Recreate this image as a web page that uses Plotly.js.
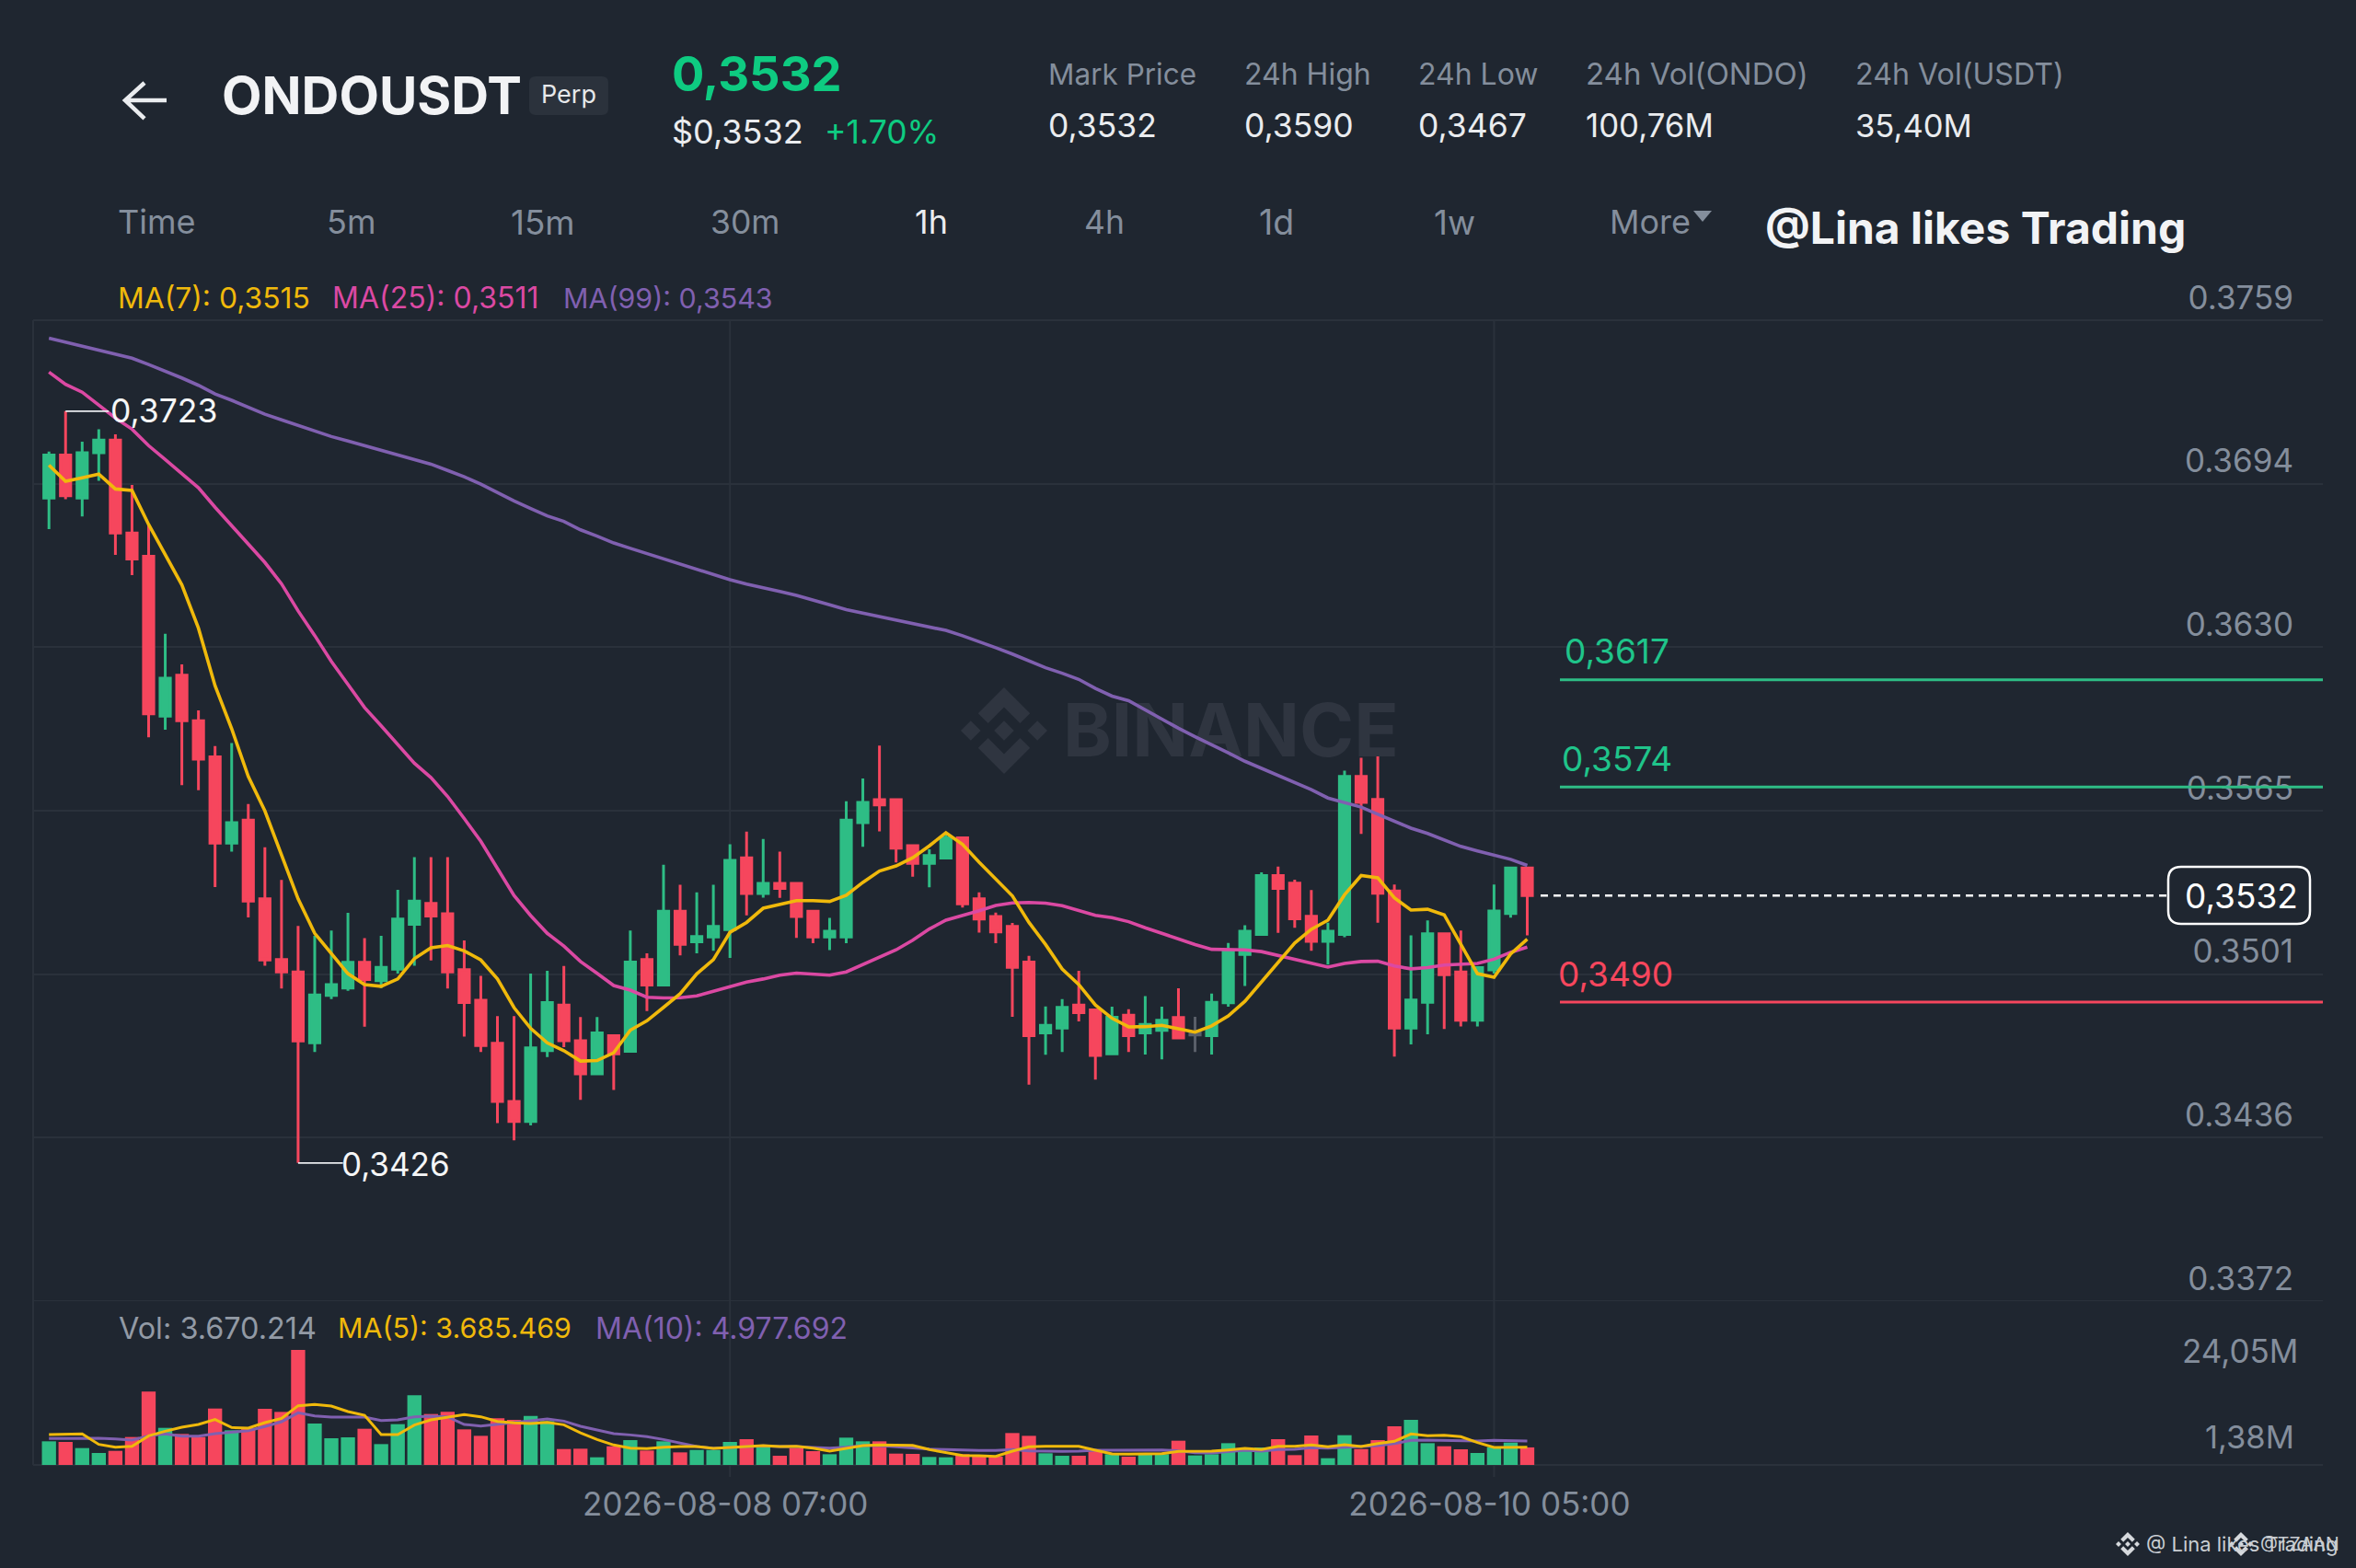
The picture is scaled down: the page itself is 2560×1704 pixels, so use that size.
<!DOCTYPE html>
<html>
<head>
<meta charset="utf-8">
<script src="https://cdn.plot.ly/plotly-3.0.1.min.js"></script>
<style>html,body{margin:0;padding:0;background:#1f2630}#c{width:2560px;height:1704px}</style>
</head>
<body>
<div id="c"></div>
<script>
const open = [
.36888,.37058,.36888,.37067,.37117,.36750,.36659,.36028,.36189,.36010,
.35867,.35527,.35618,.35307,.35068,.35019,.34739,.34926,.34955,.35057,
.34984,.35030,.35207,.35289,.35248,.35028,.34907,.34737,.34508,.34429,
.34708,.34888,.34747,.34617,.34767,.34706,.35068,.34967,.35258,.35138,
.35157,.35186,.35469,.35328,.35368,.35368,.35258,.35157,.35157,.35608,
.35698,.35698,.35517,.35447,.35468,.35548,.35307,.35237,.35198,.35058,
.34778,.34797,.34888,.34869,.34696,.34848,.34778,.34788,.34839,.34778,
.34767,.34897,.35088,.35167,.35399,.35369,.35238,.35139,.35167,.35790,
.35699,.35338,.34797,.34899,.35169,.35019,.34828,.35027,.35249,.35429];
const high = [
.37072,.37231,.37111,.37160,.37140,.36940,.36784,.36353,.36232,.36051,
.35910,.35922,.35681,.35511,.35382,.35200,.35161,.35182,.35252,.35152,
.35161,.35343,.35472,.35472,.35472,.35143,.35003,.34844,.34844,.35012,
.35023,.35042,.34841,.34841,.34767,.35182,.35092,.35442,.35363,.35333,
.35363,.35522,.35572,.35543,.35493,.35372,.35261,.35232,.35692,.35782,
.35912,.35698,.35522,.35502,.35561,.35552,.35333,.35253,.35212,.35082,
.34883,.34912,.35023,.34872,.34882,.34872,.34923,.34882,.34954,.34842,
.34933,.35133,.35203,.35412,.35434,.35383,.35342,.35213,.35813,.35864,
.35902,.35364,.35163,.35222,.35173,.35182,.35039,.35364,.35433,.35429];
const low = [
.36766,.36884,.36816,.36956,.36664,.36584,.35944,.35974,.35756,.35736,
.35354,.35493,.35234,.35043,.34953,.34265,.34703,.34912,.34944,.34803,
.34955,.35012,.35043,.35064,.34953,.34764,.34703,.34422,.34354,.34413,
.34683,.34722,.34514,.34617,.34553,.34704,.34864,.34967,.35084,.35092,
.35102,.35074,.35242,.35312,.35311,.35153,.35132,.35105,.35132,.35512,
.35573,.35451,.35394,.35353,.35463,.35273,.35174,.35132,.34842,.34574,
.34692,.34703,.34824,.34594,.34693,.34703,.34693,.34674,.34754,.34703,
.34693,.34882,.34963,.35163,.35173,.35193,.35102,.35048,.35156,.35563,
.35213,.34685,.34733,.34773,.34794,.34804,.34804,.35012,.35233,.35163];
const close = [
.37058,.36897,.37067,.37117,.36750,.36648,.36037,.36178,.36010,.35858,
.35527,.35608,.35298,.35066,.35019,.34746,.34928,.34969,.35057,.34989,
.35037,.35227,.35298,.35239,.35019,.34898,.34728,.34508,.34429,.34719,
.34898,.34747,.34617,.34778,.34696,.35058,.34967,.35258,.35128,.35158,
.35198,.35459,.35328,.35368,.35348,.35237,.35157,.35179,.35618,.35688,
.35678,.35507,.35447,.35478,.35548,.35287,.35227,.35177,.35037,.34767,
.34808,.34879,.34858,.34689,.34840,.34767,.34812,.34828,.34758,.34770,
.34899,.35101,.35179,.35399,.35348,.35228,.35139,.35179,.35790,.35688,
.35329,.34797,.34908,.35169,.35008,.34828,.35036,.35259,.35429,.35320];
const ma7 = [
.37018,.36954,.36968,.36983,.36924,.36918,.36784,.36668,.36546,.36375,
.36148,.35978,.35790,.35654,.35484,.35307,.35171,.35091,.35012,.34969,
.34962,.34991,.35071,.35114,.35123,.35102,.35066,.34991,.34878,.34796,
.34739,.34708,.34667,.34669,.34700,.34789,.34826,.34879,.34933,.35011,
.35067,.35175,.35214,.35270,.35284,.35300,.35300,.35297,.35321,.35372,
.35417,.35437,.35469,.35516,.35568,.35522,.35452,.35386,.35319,.35214,
.35127,.35030,.34969,.34888,.34836,.34802,.34803,.34808,.34794,.34781,
.34806,.34845,.34903,.34981,.35060,.35133,.35187,.35223,.35323,.35399,
.35390,.35311,.35263,.35266,.35244,.35127,.35012,.34998,.35090,.35148];
const ma25 = [
.37385,.37337,.37306,.37256,.37204,.37160,.37095,.37040,.36986,.36929,
.36852,.36779,.36709,.36634,.36550,.36443,.36346,.36244,.36153,.36062,
.35990,.35915,.35842,.35785,.35711,.35624,.35534,.35427,.35320,.35241,
.35171,.35121,.35060,.35013,.34965,.34947,.34919,.34916,.34917,.34924,
.34942,.34962,.34979,.34991,.35006,.35014,.35011,.35006,.35019,.35048,
.35077,.35106,.35144,.35188,.35223,.35241,.35260,.35281,.35291,.35293,
.35290,.35280,.35260,.35242,.35233,.35217,.35193,.35171,.35148,.35127,
.35108,.35106,.35106,.35099,.35084,.35069,.35052,.35038,.35052,.35060,
.35061,.35042,.35031,.35036,.35046,.35048,.35052,.35069,.35096,.35117];
const ma99 = [
.37519,.37503,.37487,.37474,.37458,.37440,.37415,.37390,.37362,.37333,
.37299,.37274,.37247,.37219,.37197,.37174,.37151,.37131,.37113,.37095,
.37076,.37058,.37040,.37022,.36997,.36972,.36943,.36909,.36877,.36847,
.36818,.36796,.36763,.36738,.36711,.36690,.36669,.36651,.36629,.36606,
.36587,.36566,.36549,.36536,.36520,.36504,.36487,.36467,.36448,.36434,
.36423,.36406,.36392,.36381,.36366,.36345,.36323,.36298,.36273,.36245,
.36219,.36197,.36173,.36137,.36107,.36089,.36052,.36016,.35980,.35947,
.35916,.35883,.35850,.35822,.35795,.35764,.35738,.35705,.35686,.35669,
.35641,.35613,.35586,.35565,.35540,.35514,.35496,.35480,.35463,.35439];
const volume = [
4.94,4.81,3.53,2.50,2.95,5.84,15.33,7.76,6.48,5.84,
11.80,7.25,7.70,11.74,11.09,24.05,8.66,5.58,5.77,7.57,
4.36,8.53,14.56,10.65,11.09,7.44,6.09,9.75,9.43,10.26,
9.17,3.33,3.40,1.60,3.91,5.19,3.01,4.94,2.63,3.14,
3.14,4.81,5.39,3.85,1.92,3.53,2.89,2.24,5.71,4.94,
4.94,2.37,2.31,1.67,1.60,2.24,1.92,1.73,6.67,6.09,
2.44,1.92,1.92,2.89,2.24,1.73,2.44,2.24,5.07,1.99,
2.24,4.55,2.89,3.66,5.39,2.05,6.16,1.41,6.22,3.33,
5.19,8.08,9.43,4.55,3.91,3.27,2.50,3.72,4.68,3.67];
const volMa5 = [
6.35,6.35,6.48,4.30,3.72,3.91,6.09,7.05,7.89,8.47,
9.49,7.82,7.70,8.85,9.75,12.38,12.63,12.31,11.16,10.39,
6.35,6.35,8.34,9.43,9.94,10.52,10.07,9.11,8.79,8.66,
8.91,8.40,6.73,5.32,4.17,3.53,3.40,3.72,3.85,3.85,
3.46,3.72,3.85,4.04,3.85,3.91,3.53,2.89,3.53,4.04,
4.17,4.10,4.10,3.21,2.57,1.99,1.92,1.80,2.89,3.78,
3.91,3.91,3.91,3.08,2.31,2.24,2.37,2.37,2.82,2.82,
2.89,3.14,3.46,3.21,3.91,3.91,4.17,3.78,4.23,3.85,
4.49,4.94,6.48,6.09,6.22,5.90,4.68,3.66,3.66,3.69];
const volMa10 = [
5.52,5.58,5.64,5.58,5.45,5.19,6.09,6.48,6.03,6.03,
6.54,6.93,7.18,8.02,9.04,10.90,10.26,10.00,9.94,10.00,
9.30,9.43,10.07,10.20,10.07,8.47,8.14,8.47,8.91,9.23,
9.62,9.17,8.08,7.25,6.54,6.28,5.90,5.32,4.55,3.85,
3.46,3.66,3.85,3.98,3.85,3.85,3.66,3.53,3.72,4.04,
4.04,3.78,3.53,3.33,3.21,3.08,3.01,3.01,3.21,2.95,
2.82,2.82,2.89,3.08,3.08,3.14,3.14,3.14,2.95,2.57,
2.50,2.76,3.08,2.89,3.21,3.27,3.59,3.53,3.66,3.78,
4.04,4.49,5.13,5.19,5.13,5.13,5.00,5.13,5.00,4.98];

const dojiIndex = 69;
const volumeUp = i => close[i] >= open[i] || i === dojiIndex;
const priceTickVals = [0.3759,0.36945,0.3630,0.35655,0.3501,0.34365,0.3372];
const priceTickText = ['0.3759','0.3694','0.3630','0.3565','0.3501','0.3436','0.3372'];
const levels = [0.36171,0.35748,0.34900];
const lastPrice = 0.35320;
const highMark = 0.37231, lowMark = 0.34265;

const BG='#1f2630', GRID='#2a313b', UP='#2ebd85', DOWN='#f6465d', GREY='#848e9c', YEL='#f0b90b', PINK='#db49a3', PUR='#8060b0', WHITE='#eaecef';
const W=2560, H=1704, FONT='Inter, "Noto Sans", sans-serif';
const start = Date.UTC(2026,7,6,14,0,0);
const iso = ms => new Date(ms).toISOString().replace('T',' ').replace('Z','');
const at = i => iso(start + i*3600000);
const times = open.map((_,i)=>at(i));
const idx = times.map((_,i)=>i);
const pick = (a,f)=>a.filter((_,i)=>f(i));
const notDoji = i=>i!==dojiIndex, isDoji = i=>i===dojiIndex;

const candle = (f,extra)=>Object.assign({type:'candlestick',x:pick(times,f),open:pick(open,f),high:pick(high,f),low:pick(low,f),close:pick(close,f),
  whiskerwidth:0,hoverinfo:'skip',showlegend:false,xaxis:'x',yaxis:'y'},extra);
const ln=(y,c,w,ax)=>({type:'scatter',mode:'lines',x:times,y:y,line:{color:c,width:w},hoverinfo:'skip',showlegend:false,xaxis:'x',yaxis:ax});

const traces=[
 {type:'scatter',mode:'text',x:[at(71.15)],y:[0.35942],text:['BINANCE'],textfont:{family:FONT,size:80,color:'#2f3540',weight:700},textposition:'middle center',hoverinfo:'skip',showlegend:false,xaxis:'x',yaxis:'y'},
 candle(notDoji,{increasing:{line:{color:UP,width:3},fillcolor:UP},decreasing:{line:{color:DOWN,width:3},fillcolor:DOWN}}),
 candle(isDoji,{increasing:{line:{color:'#5a5f69',width:3},fillcolor:'#5a5f69'},decreasing:{line:{color:'#5a5f69',width:3},fillcolor:'#5a5f69'}}),
 ln(ma99,PUR,3.6,'y'), ln(ma25,PINK,3.6,'y'), ln(ma7,YEL,3.6,'y'),
 {type:'bar',x:times,y:volume,marker:{color:idx.map(i=>volumeUp(i)?UP:DOWN),line:{width:0}},hoverinfo:'skip',showlegend:false,xaxis:'x',yaxis:'y2'},
 ln(volMa10,PUR,3,'y2'), ln(volMa5,YEL,3,'y2')
];

const T=(x,y,text,color,size,o)=>Object.assign({xref:'paper',yref:'paper',x:x/W,y:1-y/H,text:text,showarrow:false,xanchor:'left',yanchor:'middle',borderpad:0,borderwidth:0,
  font:{family:FONT,size:size,color:color}},o||{});
const pt=(x,y)=>(x/W).toFixed(5)+','+(1-y/H).toFixed(5);
const poly=(pts)=>'M'+pts.map(p=>pt(p[0],p[1])).join('L')+'Z';
const Sp=(path,fill,extra)=>Object.assign({type:'path',xref:'paper',yref:'paper',path:path,fillcolor:fill,line:{width:0}},extra||{});
function logo(cx,cy,r){
  const m=a=>a.map(p=>[cx+p[0]*r,cy+p[1]*r]);
  const d=(x,s)=>poly(m([[x,-s],[x+s,0],[x,s],[x-s,0]]));
  return [d(0,.23),d(-.77,.23),d(.77,.23),
    poly(m([[0,-1],[.6,-.4],[.37,-.17],[0,-.54],[-.37,-.17],[-.6,-.4]])),
    poly(m([[0,1],[.6,.4],[.37,.17],[0,.54],[-.37,.17],[-.6,.4]]))].join(' ');
}
function rrect(x0,y0,x1,y1,r){
  return 'M'+pt(x0+r,y0)+'L'+pt(x1-r,y0)+'Q'+pt(x1,y0)+' '+pt(x1,y0+r)+'L'+pt(x1,y1-r)+'Q'+pt(x1,y1)+' '+pt(x1-r,y1)+
    'L'+pt(x0+r,y1)+'Q'+pt(x0,y1)+' '+pt(x0,y1-r)+'L'+pt(x0,y0+r)+'Q'+pt(x0,y0)+' '+pt(x0+r,y0)+'Z';
}
const hline=(px0,px1,y,c,w,dash)=>({type:'line',xref:'paper',yref:'y',x0:px0/W,x1:px1/W,y0:y,y1:y,line:{color:c,width:w,dash:dash||'solid'}});
const vgrid=(x)=>({type:'line',xref:'x',yref:'paper',x0:x,x1:x,y0:1-348/H,y1:1-1605/H,line:{color:GRID,width:2},layer:'below'});

const shapes=[
 Sp(logo(1091,794,47),'#2f3540',{layer:'below'}),
 {type:'line',xref:'paper',yref:'paper',x0:36/W,x1:36/W,y0:1-348/H,y1:1-1592/H,line:{color:GRID,width:2},layer:'below'},
 vgrid(times[41]), vgrid(times[87]),
 hline(36,2524,priceTickVals[6],GRID,2),
 // price levels
 hline(1695,2524,levels[0],UP,3), hline(1695,2524,levels[1],UP,3), hline(1695,2524,levels[2],DOWN,3),
 hline(1674,2356,lastPrice,'#ffffff',2.5,'8px,6px'),
 Sp(rrect(2356,942,2510,1004,14),BG,{line:{color:'#ffffff',width:2.5}}),
 // high/low leaders
 {type:'line',xref:'x',yref:'y',x0:times[1],x1:at(3.6),y0:highMark,y1:highMark,line:{color:WHITE,width:1.8}},
 {type:'line',xref:'x',yref:'y',x0:times[15],x1:at(17.7),y0:lowMark,y1:lowMark,line:{color:WHITE,width:1.8}},
 // header arrow
 {type:'path',xref:'paper',yref:'paper',path:'M'+pt(181,109)+'L'+pt(136,109)+'M'+pt(157,90)+'L'+pt(136,109)+'L'+pt(157,129),line:{color:WHITE,width:4.5}},
 // perp badge
 Sp(rrect(575,83,661,125,7),'#2b323c'),
 // more triangle
 Sp(poly([[1840,229],[1860,229],[1850,241]]),GREY),
 // footer logos
 Sp(logo(2312,1678,13),'#d6d9dd'),
 Sp(logo(2435,1678,13),'#d6d9dd')
];

const annotations=[
 T(241,103,'<b>ONDOUSDT</b>','#f2f3f5',56.5),
 T(618,102,'Perp','#e6e8ea',27,{xanchor:'center'}),
 T(730,80,'<b>0,3532</b>','#0ecb81',52.5),
 T(730,143,'$0,3532',WHITE,36),
 T(896,143,'+1.70%','#0ecb81',35.5),
 T(1139,80,'Mark Price',GREY,31.5), T(1352,80,'24h High',GREY,32), T(1541,80,'24h Low',GREY,32),
 T(1723,80,'24h Vol(ONDO)',GREY,33), T(2016,80,'24h Vol(USDT)',GREY,32.2),
 T(1139,136,'0,3532',WHITE,35.5), T(1352,136,'0,3590',WHITE,35.5), T(1541,136,'0,3467',WHITE,35.5),
 T(1723,136,'100,76M',WHITE,34.8), T(2016,136,'35,40M',WHITE,34.6),
 T(128,241,'Time',GREY,36), T(355,241,'5m',GREY,36), T(555,241,'15m',GREY,36.8), T(772,241,'30m',GREY,35.5),
 T(994,241,'1h',WHITE,36), T(1178,241,'4h',GREY,35.5), T(1368,241,'1d',GREY,37.5), T(1558,241,'1w',GREY,36.8), T(1749,241,'More',GREY,36),
 T(1918,248,'<b>@Lina likes Trading</b>','#f2f3f5',48),
 T(128,324,'MA(7): 0,3515',YEL,31.8), T(361,324,'MA(25): 0,3511',PINK,32), T(612,324,'MA(99): 0,3543',PUR,30.4),
 T(129,1443,'Vol: 3.670.214','#929aa5',32.4), T(367,1443,'MA(5): 3.685.469',YEL,30.4), T(647,1443,'MA(10): 4.977.692',PUR,32),
 T(2497,1468,'24,05M',GREY,35,{xanchor:'right'}), T(2493,1561,'1,38M',GREY,34.5,{xanchor:'right'}),
 T(1700,707,'0,3617','#1fc48a',37), T(1697,824,'0,3574','#1fc48a',37), T(1693,1058,'0,3490',DOWN,37),
 T(120,446,'0,3723','#f5f6f7',35.5), T(371,1265,'0,3426','#f5f6f7',35),
 T(2435,973,'0,3532','#ffffff',37,{xanchor:'center'}),
 T(2332,1678,'@ Lina likes Trading','#c9cdd2',22), T(2456,1678,'@TZAAN','#c9cdd2',19.5)
];

const layout={
 width:W,height:H,margin:{l:0,r:0,t:0,b:0,pad:0},paper_bgcolor:BG,plot_bgcolor:BG,showlegend:false,
 boxmode:'overlay',boxgap:0.38,boxgroupgap:0,bargap:0.15,barmode:'overlay',hovermode:false,
 font:{family:FONT,color:GREY},
 xaxis:{type:'date',domain:[36/W,2524/W],anchor:'y2',range:[at(-0.953),at(136.9)],rangeslider:{visible:false},
   tickmode:'array',tickvals:[times[41],times[87]],tickformat:'%Y-%m-%d %H:%M',tickangle:0,ticks:'',
   tickfont:{family:FONT,size:35,color:GREY},showgrid:false,zeroline:false,showline:false,ticklabelstandoff:6,ticklabelshift:-5},
 yaxis:{domain:[1-1414/H,1-300/H],range:[0.3372,0.37764],side:'right',anchor:'x',tickmode:'array',tickvals:priceTickVals,ticktext:priceTickText,
   ticklabelposition:'inside top',ticklabelstandoff:29,ticks:'',tickfont:{family:FONT,size:35,color:GREY},showgrid:true,gridcolor:GRID,gridwidth:2,zeroline:false,showline:false},
 yaxis2:{domain:[1-1605/H,1-1414/H],range:[-2.5,34.25],side:'right',anchor:'x',showticklabels:false,ticks:'',showgrid:false,zeroline:true,zerolinecolor:GRID,zerolinewidth:2,showline:false},
 shapes:shapes,annotations:annotations
};
Plotly.newPlot('c',traces,layout,{displayModeBar:false,responsive:false,staticPlot:true});
</script>
</body>
</html>
